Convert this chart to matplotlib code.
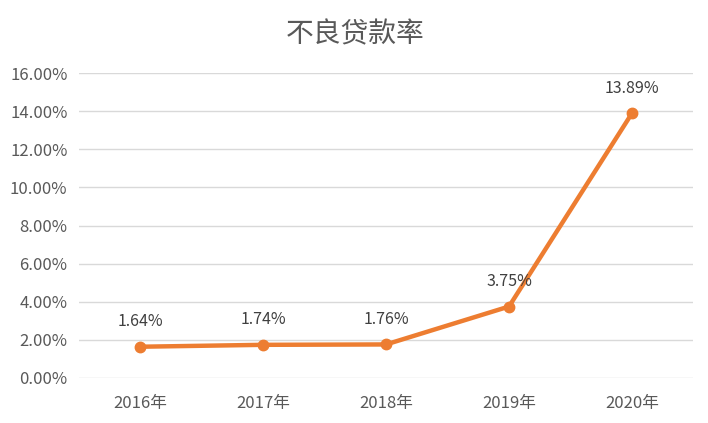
import matplotlib
matplotlib.use('Agg')
import matplotlib.pyplot as plt
from matplotlib.ticker import FuncFormatter

plt.rcParams['font.family'] = ['Noto Sans CJK SC', 'DejaVu Sans']

# --- data ---
years = ['2016年', '2017年', '2018年', '2019年', '2020年']
npl_rate = [1.64, 1.74, 1.76, 3.75, 13.89]  # percent
y_ticks = [0, 2, 4, 6, 8, 10, 12, 14, 16]

ORANGE = '#ED7D31'
GRID = '#D9D9D9'
TEXT = '#595959'

fig = plt.figure(figsize=(7.08, 4.23), dpi=100)
ax = fig.add_axes([0.111, 0.1064, 0.8685, 0.721])

x = list(range(len(years)))
ax.plot(x, npl_rate, color=ORANGE, linewidth=3.2, marker='o', markersize=7.5,
        solid_capstyle='round', zorder=3)

for xi, v in zip(x, npl_rate):
    ax.annotate(f'{v:.2f}%', (xi, v), xytext=(0, 12), textcoords='offset points',
                ha='center', va='bottom', fontsize=11.5, color='#404040')

ax.set_xlim(-0.5, len(years) - 0.5)
ax.set_ylim(0, 16)
ax.set_yticks(y_ticks)
ax.yaxis.set_major_formatter(FuncFormatter(lambda v, p: f'{v:.2f}%'))
ax.set_xticks(x)
ax.set_xticklabels(years)
ax.tick_params(axis='both', length=0, labelsize=12, labelcolor=TEXT)
ax.tick_params(axis='x', pad=12)
ax.tick_params(axis='y', pad=8)

ax.grid(axis='y', color=GRID, linewidth=1)
ax.set_axisbelow(True)
for s in ax.spines.values():
    s.set_visible(False)

fig.text(0.502, 0.92, '不良贷款率', ha='center', va='center', fontsize=20,
         color=TEXT, fontweight='light')

fig.savefig('out.png', dpi=100)
